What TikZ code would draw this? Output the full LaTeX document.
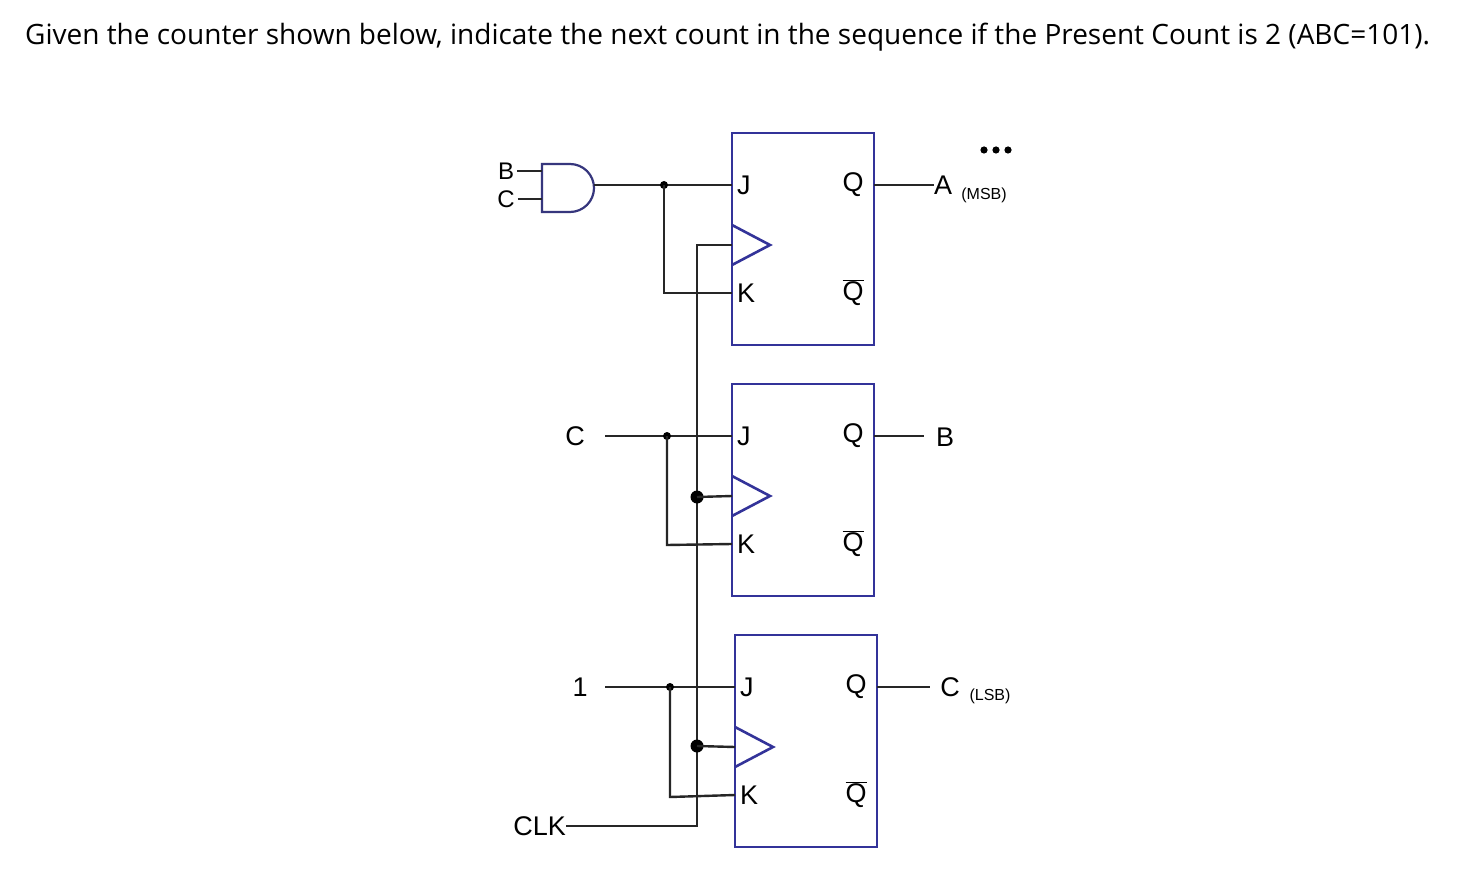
\documentclass[tikz,border=0pt]{standalone}
\usepackage{fontspec}
\setmainfont{Liberation Sans}
\newfontfamily\titlefont{Open Sans}
\begin{document}
\begin{tikzpicture}[x=1pt,y=-1pt,
  ff/.style={draw=blue!50!black!80,line width=2.6pt},
  wire/.style={draw=black!85,line width=2.4pt},
  lbl/.style={inner sep=0pt,font=\fontsize{27}{30}\selectfont},
  sm/.style={inner sep=0pt,font=\fontsize{16}{18}\selectfont},
  dot/.style={circle,fill=black,inner sep=0pt,minimum size=#1}]
\useasboundingbox[fill=white] (0,0) rectangle (1458,882);
\node[anchor=west,inner sep=0pt,font=\titlefont\fontsize{28}{32}\selectfont] (title) at (25,37) {Given the counter shown below, indicate the next count in the sequence if the Present Count is 2 (ABC=101).};
% flip-flops
\foreach \n/\x/\y in {1/732/133,2/732/384,3/735/635}{
  \draw[ff] (\x,\y) rectangle ++(142,212);
  \draw[ff] (\x,\y+92) -- (\x+38,\y+112) -- (\x,\y+132);
  \node[lbl,anchor=west] (J\n) at (\x+5,\y+52) {J};
  \node[lbl,anchor=west] (K\n) at (\x+5,\y+160) {K};
  \node[lbl] (Q\n) at (\x+121,\y+52) {Q};
  \node[lbl] (Qb\n) at (\x+121,\y+160) {$\overline{\mbox{Q}}$};
  \coordinate (j\n) at (\x,\y+52);
  \coordinate (k\n) at (\x,\y+160);
  \coordinate (c\n) at (\x,\y+112);
  \coordinate (q\n) at (\x+142,\y+52);
}
% AND gate
\draw[draw=gray!60!blue!70!black,line width=2.2pt,fill=white] (542,164) -- (570,164) arc[start angle=-90,end angle=90,radius=24] -- (542,212) -- cycle;
\node[lbl,font=\fontsize{24}{26}\selectfont] (Bin) at (506,171) {B};
\node[lbl,font=\fontsize{24}{26}\selectfont] (Cin) at (506,199) {C};
\draw[wire,line width=2pt] (Bin.east)++(3,0) -- (542,171);
\draw[wire,line width=2pt] (Cin.east)++(3,0) -- (542,199);
% FF1 inputs
\draw[wire] (594,185) -- (j1);
\node[dot=8pt] (d1) at (664,185) {};
\draw[wire] (d1.center) -- (664,293) -- (k1);
% FF2
\node[lbl] (Cl) at (575,436) {C};
\draw[wire] (605,436) -- (j2);
\node[dot=8pt] (d2) at (667,436) {};
\draw[wire] (d2.center) -- (667,545) -- (k2);
% FF3
\node[lbl] (one) at (580,687) {1};
\draw[wire] (605,687) -- (j3);
\node[dot=8pt] (d3) at (670,687) {};
\draw[wire] (d3.center) -- (670,797) -- (k3);
% clock
\node[lbl,anchor=east] (clk) at (566,826) {CLK};
\draw[wire] (clk.east) -- (697,826) -- (697,245) -- (c1);
\node[dot=13pt] (cd2) at (697,497) {};
\node[dot=13pt] (cd3) at (697,746) {};
\draw[wire] (cd2.center) -- (c2);
\draw[wire] (cd3.center) -- (c3);
% outputs
\node[lbl] (A) at (943,185) {A};
\draw[wire] (q1) -- (A.west);
\node[sm] (msb) at (984,195) {(MSB)};
\node[lbl] (Bo) at (945,437) {B};
\draw[wire] (q2) -- ++(50,0);
\node[lbl] (Co) at (950,687) {C};
\node[sm] (lsb) at (990,696) {(LSB)};
\draw[wire] (q3) -- ++(53,0);
\foreach \xx in {984,996,1008} \fill (\xx,150) circle (3.6);
\end{tikzpicture}
\end{document}
